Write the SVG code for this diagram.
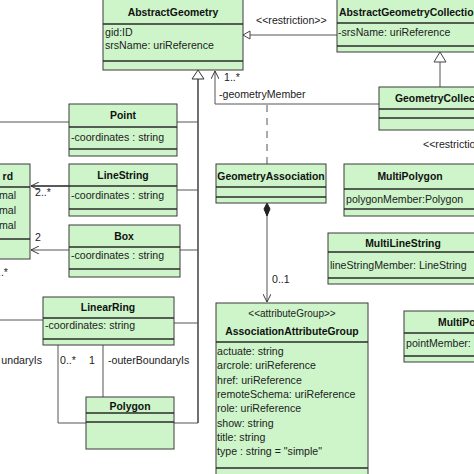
<svg xmlns="http://www.w3.org/2000/svg" width="474" height="474" viewBox="0 0 474 474">
<defs>
<style>
.box{fill:#cdf5c9;stroke:#3a3a3a;stroke-width:1}
.sep{stroke:#2a2a2a;stroke-width:1.3}
.t{font-family:"Liberation Sans",Arial,sans-serif;font-size:10.4px;font-weight:bold;fill:#111;text-anchor:middle}
.a{font-family:"Liberation Sans",Arial,sans-serif;font-size:10.6px;fill:#222}
.st{font-family:"Liberation Sans",Arial,sans-serif;font-size:10px;fill:#222;text-anchor:middle}
.l{font-family:"Liberation Sans",Arial,sans-serif;font-size:10.6px;fill:#222}
.ln{fill:none;stroke:#555;stroke-width:1}
.dk{fill:none;stroke:#222;stroke-width:1.3}
</style>
<marker id="open" viewBox="0 0 10 10" refX="10" refY="5" markerWidth="8" markerHeight="8" orient="auto" markerUnits="userSpaceOnUse">
<path d="M0,0 L10,5 L0,10" fill="none" stroke="#333" stroke-width="1.2"/>
</marker>
</defs>

<g id="connectors">
<!-- generalization to AbstractGeometry -->
<line class="dk" x1="198" y1="78" x2="198" y2="423"/>
<polygon points="198,70 192,79 204,79" fill="#fff" stroke="#333" stroke-width="1"/>
<line class="ln" x1="177" y1="122" x2="198" y2="122"/>
<line class="ln" x1="177" y1="190" x2="198" y2="190"/>
<line class="ln" x1="180" y1="250" x2="198" y2="250"/>
<line class="ln" x1="174" y1="323" x2="198" y2="323"/>
<line class="ln" x1="174" y1="423" x2="198" y2="423"/>
<!-- lines off left edge -->
<line class="ln" x1="0" y1="122" x2="69" y2="122"/>
<line class="ln" x1="0" y1="320" x2="43" y2="320"/>
<!-- LineString / Box to Coord -->
<line class="dk" x1="69" y1="186" x2="31" y2="186" marker-end="url(#open)"/>
<line class="ln" x1="69" y1="250" x2="31" y2="250" marker-end="url(#open)"/>
<!-- geometryMember association -->
<polyline class="ln" points="379,104 215,104 215,71" marker-end="url(#open)"/>
<line class="ln" x1="267" y1="105" x2="267" y2="164" stroke-dasharray="7,6"/>
<!-- restriction -->
<line class="ln" x1="337" y1="35" x2="249" y2="35"/>
<polygon points="243,35 250,31 250,39" fill="#fff" stroke="#444" stroke-width="1"/>
<!-- GeometryCollection generalization -->
<line class="ln" x1="440" y1="87" x2="440" y2="62"/>
<polygon points="440,52 434,62 446,62" fill="#fff" stroke="#444" stroke-width="1"/>
<!-- composition -->
<line class="ln" x1="267" y1="214" x2="267" y2="302" marker-end="url(#open)"/>
<polygon points="267,203 270,209 267,216 264,209" fill="#222" stroke="#222" stroke-width="1"/>
<!-- LinearRing / Polygon -->
<polyline class="ln" points="58,345 58,423 86,423"/>
<line class="ln" x1="103" y1="345" x2="103" y2="397"/>
<!-- labels -->
<text class="l" x="224" y="81">1..*</text>
<text class="l" x="219" y="98">-geometryMember</text>
<text class="l" x="256" y="24">&lt;&lt;restriction&gt;&gt;</text>
<text class="l" x="423" y="148">&lt;&lt;restriction&gt;&gt;</text>
<text class="l" x="35" y="196">2..*</text>
<text class="l" x="35" y="241">2</text>
<text class="l" x="8" y="276" text-anchor="end">..*</text>
<text class="l" x="272" y="283">0..1</text>
<text class="l" x="60" y="364">0..*</text>
<text class="l" x="89" y="364">1</text>
<text class="l" x="108" y="364">-outerBoundaryIs</text>
<text class="l" x="42" y="364" text-anchor="end">undaryIs</text>
</g>

<g id="AbstractGeometry">
<rect class="box" x="103" y="-1" width="140" height="71"/>
<line class="sep" x1="103" y1="24" x2="243" y2="24"/>
<line class="sep" x1="103" y1="61" x2="243" y2="61"/>
<text class="t" x="173" y="16">AbstractGeometry</text>
<text class="a" x="105" y="36">gid:ID</text>
<text class="a" x="105" y="49">srsName: uriReference</text>
</g>

<g id="AbstractGeometryCollection">
<rect class="box" x="337" y="-1" width="150" height="53"/>
<line class="sep" x1="337" y1="23" x2="487" y2="23"/>
<line class="sep" x1="337" y1="46" x2="487" y2="46"/>
<text class="t" x="339" y="16" style="text-anchor:start">AbstractGeometryCollection</text>
<text class="a" x="338" y="36">-srsName: uriReference</text>
</g>

<g id="GeometryCollection">
<rect class="box" x="379" y="87" width="110" height="43"/>
<line class="sep" x1="379" y1="109" x2="489" y2="109"/>
<line class="sep" x1="379" y1="118" x2="489" y2="118"/>
<text class="t" x="395" y="102" style="text-anchor:start">GeometryCollection</text>
</g>

<g id="Point">
<rect class="box" x="69" y="104" width="108" height="52"/>
<line class="sep" x1="69" y1="127" x2="177" y2="127"/>
<line class="sep" x1="69" y1="149" x2="177" y2="149"/>
<text class="t" x="123" y="119">Point</text>
<text class="a" x="71" y="141">-coordinates : string</text>
</g>

<g id="LineString">
<rect class="box" x="69" y="164" width="108" height="52"/>
<line class="sep" x1="69" y1="186" x2="177" y2="186"/>
<line class="sep" x1="69" y1="209" x2="177" y2="209"/>
<text class="t" x="123" y="179">LineString</text>
<text class="a" x="71" y="199">-coordinates : string</text>
</g>

<g id="Box">
<rect class="box" x="69" y="225" width="111" height="52"/>
<line class="sep" x1="69" y1="247" x2="180" y2="247"/>
<line class="sep" x1="69" y1="269" x2="180" y2="269"/>
<text class="t" x="124" y="240">Box</text>
<text class="a" x="71" y="259">-coordinates : string</text>
</g>

<g id="Coord">
<rect class="box" x="-10" y="164" width="40" height="95"/>
<line class="sep" x1="-10" y1="187" x2="30" y2="187"/>
<line class="sep" x1="-10" y1="239" x2="30" y2="239"/>
<text class="t" x="13" y="180" style="text-anchor:end">rd</text>
<text class="a" x="16" y="199" text-anchor="end">mal</text>
<text class="a" x="16" y="214" text-anchor="end">mal</text>
<text class="a" x="16" y="229" text-anchor="end">mal</text>
</g>

<g id="LinearRing">
<rect class="box" x="43" y="297" width="131" height="48"/>
<line class="sep" x1="43" y1="318" x2="174" y2="318"/>
<line class="sep" x1="43" y1="339" x2="174" y2="339"/>
<text class="t" x="108" y="311">LinearRing</text>
<text class="a" x="45" y="329">-coordinates: string</text>
</g>

<g id="Polygon">
<rect class="box" x="86" y="397" width="88" height="52"/>
<line class="sep" x1="86" y1="413" x2="174" y2="413"/>
<line class="sep" x1="86" y1="422" x2="174" y2="422"/>
<text class="t" x="130" y="410">Polygon</text>
</g>

<g id="GeometryAssociation">
<rect class="box" x="216" y="164" width="110" height="39"/>
<line class="sep" x1="216" y1="187" x2="326" y2="187"/>
<line class="sep" x1="216" y1="197" x2="326" y2="197"/>
<text class="t" x="271" y="180">GeometryAssociation</text>
</g>

<g id="MultiPolygon">
<rect class="box" x="344" y="164" width="140" height="52"/>
<line class="sep" x1="344" y1="189" x2="484" y2="189"/>
<line class="sep" x1="344" y1="209" x2="484" y2="209"/>
<text class="t" x="410" y="180">MultiPolygon</text>
<text class="a" x="346" y="203">polygonMember:Polygon</text>
</g>

<g id="MultiLineString">
<rect class="box" x="328" y="233" width="156" height="51"/>
<line class="sep" x1="328" y1="252" x2="484" y2="252"/>
<line class="sep" x1="328" y1="278" x2="484" y2="278"/>
<text class="t" x="403" y="247">MultiLineString</text>
<text class="a" x="330" y="269">lineStringMember: LineString</text>
</g>

<g id="MultiPoint">
<rect class="box" x="404" y="311" width="80" height="51"/>
<line class="sep" x1="404" y1="333" x2="484" y2="333"/>
<line class="sep" x1="404" y1="356" x2="484" y2="356"/>
<text class="t" x="438" y="326" style="text-anchor:start">MultiPoint</text>
<text class="a" x="406" y="347">pointMember:</text>
</g>

<g id="AssociationAttributeGroup">
<rect class="box" x="216" y="303" width="152" height="180"/>
<line class="sep" x1="216" y1="342" x2="368" y2="342"/>
<line class="sep" x1="216" y1="468" x2="368" y2="468"/>
<text class="st" x="292" y="317">&lt;&lt;attributeGroup&gt;&gt;</text>
<text class="t" x="292" y="335">AssociationAttributeGroup</text>
<text class="a" x="217" y="355">actuate: string</text>
<text class="a" x="217" y="369">arcrole: uriReference</text>
<text class="a" x="217" y="384">href: uriReference</text>
<text class="a" x="217" y="398">remoteSchema: uriReference</text>
<text class="a" x="217" y="412">role: uriReference</text>
<text class="a" x="217" y="427">show: string</text>
<text class="a" x="217" y="441">title: string</text>
<text class="a" x="217" y="455">type : string  = "simple"</text>
</g>
</svg>
